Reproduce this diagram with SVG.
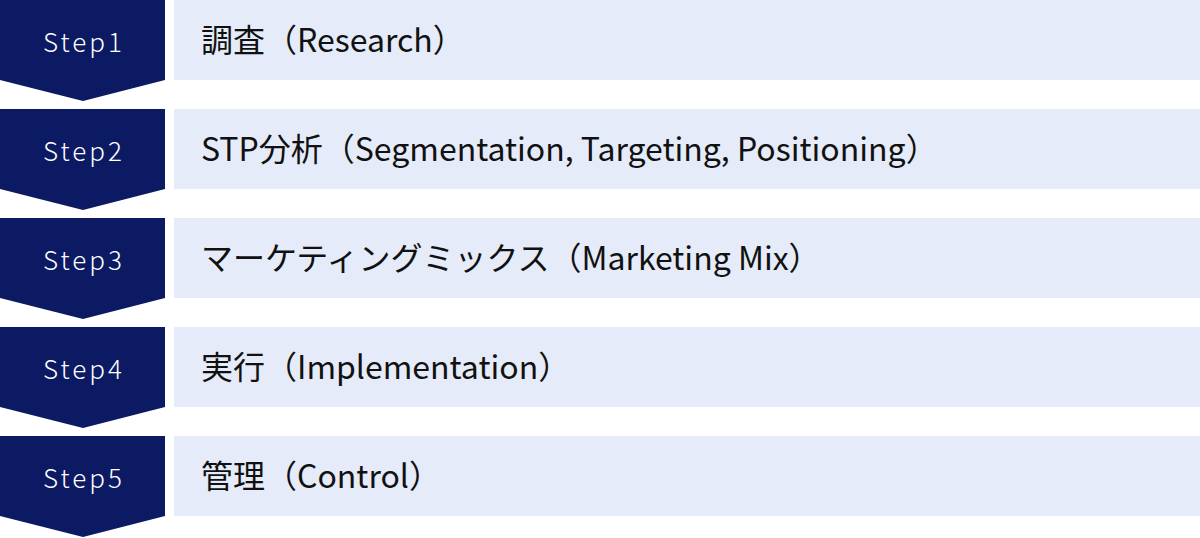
<svg xmlns="http://www.w3.org/2000/svg" width="1200" height="538" viewBox="0 0 1200 538">
<style>
.chev{fill:#0b1a62}
.box{fill:#e5ebf8}
.lbl{font-family:"Noto Sans CJK JP","Noto Sans",sans-serif;font-size:26px;font-weight:300;fill:#ffffff;letter-spacing:3px;text-anchor:middle}
.txt{font-family:"Noto Sans CJK JP","Noto Sans",sans-serif;font-size:32px;font-weight:400;fill:#111111}
</style>
<rect width="1200" height="538" fill="#ffffff"/>
<g id="step1">
<polygon class="chev" points="0,0 165,0 165,80 83,101 0,80"/>
<rect class="box" x="174" y="0" width="1026" height="80"/>
<text class="lbl" x="84" y="52">Step1</text>
<text class="txt" x="201" y="52">調査（Research）</text>
</g>
<g id="step2">
<polygon class="chev" points="0,109 165,109 165,189 83,210 0,189"/>
<rect class="box" x="174" y="109" width="1026" height="80"/>
<text class="lbl" x="84" y="161">Step2</text>
<text class="txt" x="201" y="161">STP分析（Segmentation, Targeting, Positioning）</text>
</g>
<g id="step3">
<polygon class="chev" points="0,218 165,218 165,298 83,319 0,298"/>
<rect class="box" x="174" y="218" width="1026" height="80"/>
<text class="lbl" x="84" y="270">Step3</text>
<text class="txt" x="201" y="270">マーケティングミックス（Marketing Mix）</text>
</g>
<g id="step4">
<polygon class="chev" points="0,327 165,327 165,407 83,428 0,407"/>
<rect class="box" x="174" y="327" width="1026" height="80"/>
<text class="lbl" x="84" y="379">Step4</text>
<text class="txt" x="201" y="379">実行（Implementation）</text>
</g>
<g id="step5">
<polygon class="chev" points="0,436 165,436 165,516 83,537 0,516"/>
<rect class="box" x="174" y="436" width="1026" height="80"/>
<text class="lbl" x="84" y="488">Step5</text>
<text class="txt" x="201" y="488">管理（Control）</text>
</g>
<g id="connectors"></g>
</svg>
